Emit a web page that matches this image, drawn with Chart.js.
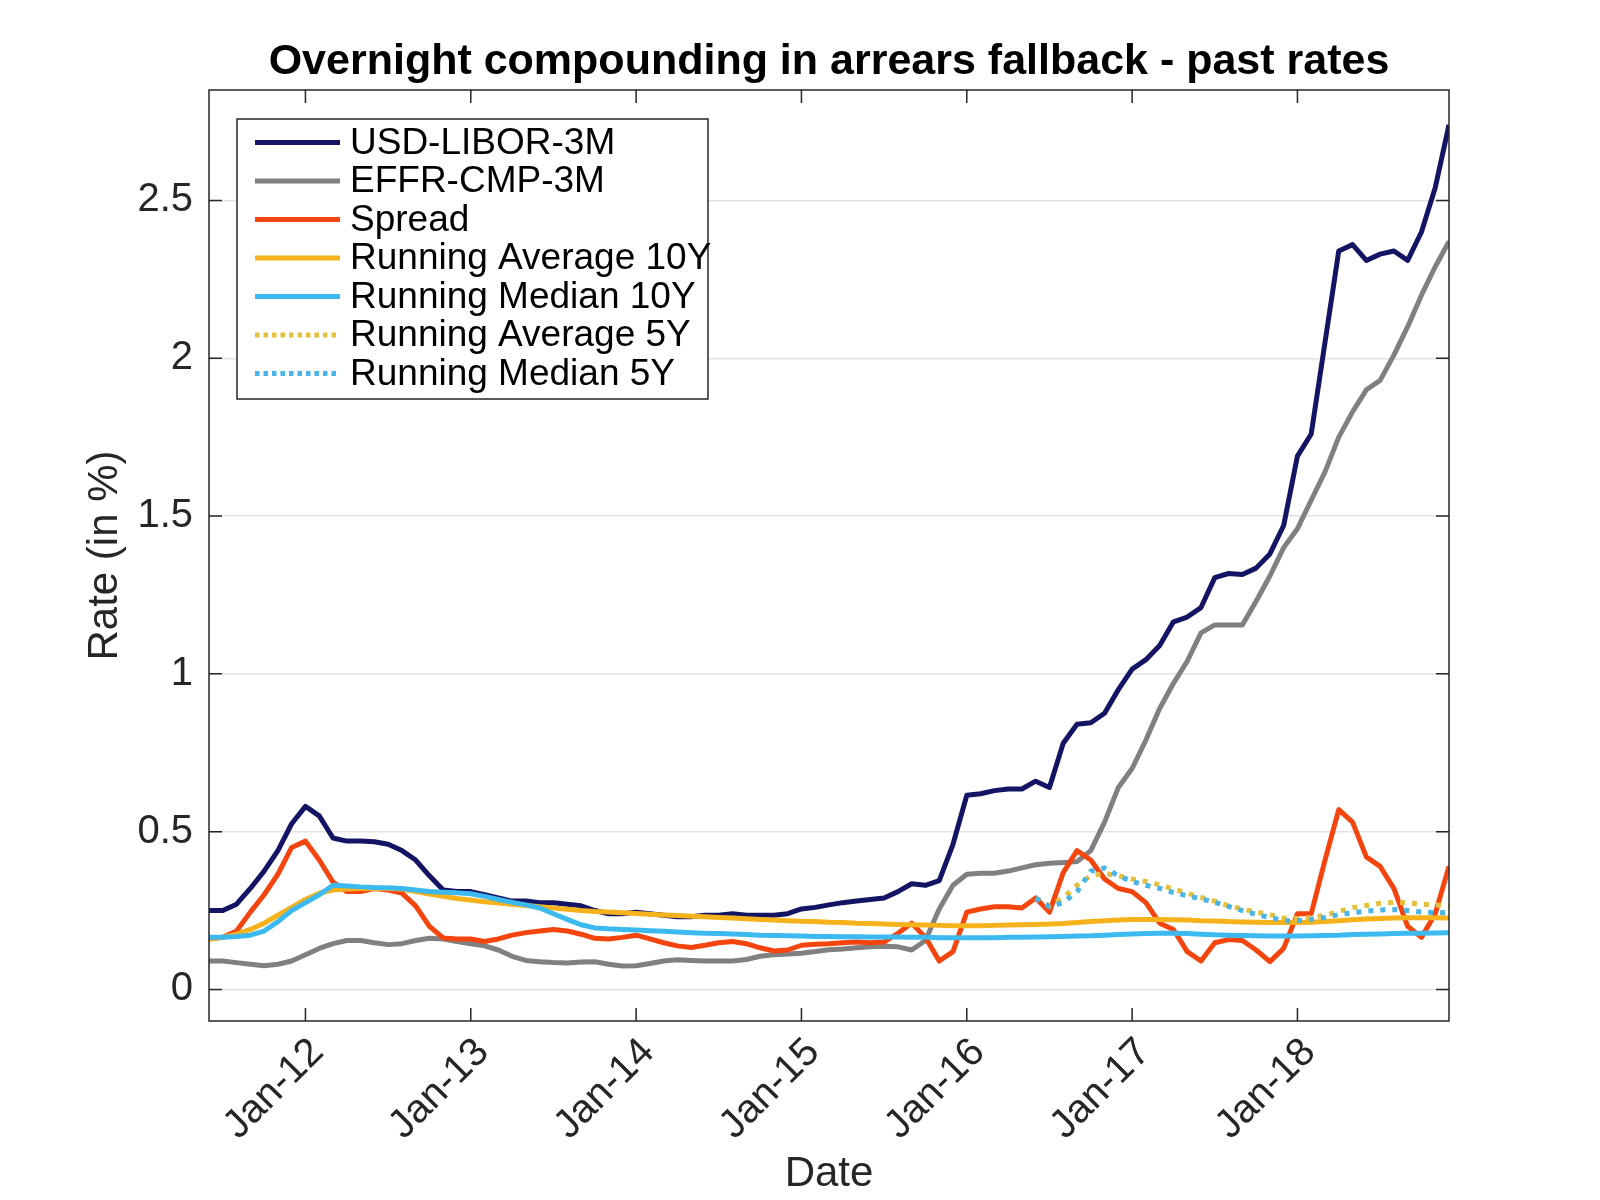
<!DOCTYPE html>
<html>
<head>
<meta charset="utf-8">
<script src="https://cdn.jsdelivr.net/npm/chart.js@4.4.1/dist/chart.umd.min.js"></script>
<style>
  html, body { margin: 0; padding: 0; background: #fff; }
  canvas { display: block; }
</style>
</head>
<body>
<canvas id="chart" width="1600" height="1200"></canvas>
<script>
// monthly samples, Jun 2011 .. Dec 2018
const months = [
  '2011-06','2011-07','2011-08','2011-09','2011-10','2011-11','2011-12',
  '2012-01','2012-02','2012-03','2012-04','2012-05','2012-06','2012-07','2012-08','2012-09','2012-10','2012-11','2012-12',
  '2013-01','2013-02','2013-03','2013-04','2013-05','2013-06','2013-07','2013-08','2013-09','2013-10','2013-11','2013-12',
  '2014-01','2014-02','2014-03','2014-04','2014-05','2014-06','2014-07','2014-08','2014-09','2014-10','2014-11','2014-12',
  '2015-01','2015-02','2015-03','2015-04','2015-05','2015-06','2015-07','2015-08','2015-09','2015-10','2015-11','2015-12',
  '2016-01','2016-02','2016-03','2016-04','2016-05','2016-06','2016-07','2016-08','2016-09','2016-10','2016-11','2016-12',
  '2017-01','2017-02','2017-03','2017-04','2017-05','2017-06','2017-07','2017-08','2017-09','2017-10','2017-11','2017-12',
  '2018-01','2018-02','2018-03','2018-04','2018-05','2018-06','2018-07','2018-08','2018-09','2018-10','2018-11','2018-12'
];

const libor = [
  0.25, 0.25, 0.27, 0.32, 0.375, 0.44, 0.525,
  0.58, 0.55, 0.48, 0.47, 0.47, 0.468, 0.46, 0.44, 0.41, 0.36, 0.315, 0.31,
  0.31, 0.30, 0.29, 0.28, 0.28, 0.275, 0.275, 0.27, 0.265, 0.25, 0.24, 0.24,
  0.245, 0.24, 0.235, 0.23, 0.23, 0.235, 0.235, 0.24, 0.235, 0.235, 0.235, 0.24,
  0.255, 0.26, 0.268, 0.275, 0.28, 0.285, 0.29, 0.31, 0.335, 0.33, 0.345, 0.46,
  0.615, 0.62, 0.63, 0.635, 0.635, 0.66, 0.64, 0.78, 0.84, 0.845, 0.875, 0.95,
  1.015, 1.045, 1.09, 1.165, 1.18, 1.21, 1.305, 1.318, 1.315, 1.335, 1.38, 1.47,
  1.69, 1.76, 2.05, 2.34, 2.36, 2.31, 2.33, 2.34, 2.31, 2.40, 2.54, 2.74
];

const effr = [
  0.09, 0.09, 0.085, 0.08, 0.075, 0.08, 0.09,
  0.11, 0.13, 0.145, 0.155, 0.155, 0.148, 0.142, 0.145, 0.155, 0.162, 0.16, 0.152,
  0.145, 0.138, 0.125, 0.105, 0.092, 0.088, 0.085, 0.084, 0.087, 0.088, 0.08, 0.074,
  0.075, 0.082, 0.09, 0.094, 0.092, 0.09, 0.09, 0.09, 0.095, 0.105, 0.11, 0.112,
  0.115, 0.12, 0.126, 0.128, 0.132, 0.135, 0.137, 0.135, 0.125, 0.155, 0.255, 0.33,
  0.365, 0.368, 0.368, 0.375, 0.385, 0.395, 0.40, 0.402, 0.405, 0.44, 0.53, 0.64,
  0.70, 0.79, 0.89, 0.97, 1.04, 1.13, 1.155, 1.155, 1.155, 1.23, 1.31, 1.40,
  1.46, 1.55, 1.64, 1.75, 1.83, 1.90, 1.93, 2.01, 2.10, 2.20, 2.29, 2.37
];

const spread = [
  0.16, 0.165, 0.185, 0.245, 0.30, 0.365, 0.45,
  0.47, 0.41, 0.34, 0.31, 0.31, 0.32, 0.315, 0.305, 0.265, 0.20, 0.163, 0.16,
  0.16, 0.152, 0.16, 0.172, 0.18, 0.185, 0.19, 0.185, 0.175, 0.162, 0.16, 0.165,
  0.172, 0.16, 0.148, 0.138, 0.133, 0.14, 0.148, 0.152, 0.145, 0.132, 0.122, 0.125,
  0.14, 0.143, 0.145, 0.148, 0.15, 0.148, 0.15, 0.178, 0.21, 0.165, 0.09, 0.12,
  0.245, 0.255, 0.262, 0.262, 0.258, 0.29, 0.245, 0.37, 0.44, 0.41, 0.35, 0.32,
  0.31, 0.275, 0.21, 0.19, 0.12, 0.09, 0.148, 0.158, 0.155, 0.125, 0.088, 0.13,
  0.24, 0.24, 0.41, 0.57, 0.53, 0.42, 0.39, 0.32, 0.20, 0.165, 0.24, 0.39
];

const avg10 = [
  0.16, 0.165, 0.175, 0.19, 0.21, 0.235, 0.26,
  0.285, 0.305, 0.315, 0.318, 0.32, 0.32, 0.32, 0.318, 0.31, 0.302, 0.295, 0.288,
  0.283, 0.278, 0.274, 0.27, 0.266, 0.262, 0.258, 0.254, 0.25, 0.247, 0.245, 0.243,
  0.241, 0.238, 0.236, 0.234, 0.232, 0.23, 0.228, 0.226, 0.224, 0.222, 0.22, 0.218,
  0.216, 0.215, 0.213, 0.212, 0.21, 0.209, 0.207, 0.206, 0.205, 0.204, 0.203, 0.202,
  0.202, 0.202, 0.203, 0.204, 0.205, 0.206, 0.207, 0.209, 0.212, 0.215, 0.218, 0.22,
  0.222, 0.222, 0.222, 0.221, 0.22, 0.218, 0.217, 0.215, 0.214, 0.213, 0.212, 0.212,
  0.212, 0.213, 0.215, 0.218, 0.221, 0.223, 0.225, 0.226, 0.227, 0.227, 0.227, 0.226
];

const median10 = [
  0.165, 0.165, 0.168, 0.172, 0.185, 0.215, 0.25,
  0.275, 0.30, 0.33, 0.328, 0.325, 0.323, 0.322, 0.32, 0.315, 0.31, 0.308, 0.306,
  0.303, 0.295, 0.285, 0.276, 0.268, 0.258, 0.24, 0.222, 0.205, 0.195, 0.192, 0.19,
  0.188, 0.186, 0.184, 0.182, 0.18, 0.178, 0.177, 0.176, 0.174, 0.172, 0.171, 0.17,
  0.169, 0.168, 0.168, 0.167, 0.167, 0.166, 0.166, 0.166, 0.165, 0.165, 0.164, 0.164,
  0.164, 0.164, 0.164, 0.165, 0.165, 0.166, 0.167, 0.168, 0.169, 0.17, 0.172, 0.174,
  0.176, 0.177, 0.178, 0.178, 0.177, 0.175, 0.173, 0.172, 0.171, 0.17, 0.169, 0.169,
  0.169, 0.17, 0.171, 0.172, 0.174, 0.175, 0.176, 0.177, 0.178, 0.178, 0.179, 0.18
];

const avg5 = [
  null, null, null, null, null, null, null,
  null, null, null, null, null, null, null, null, null, null, null, null,
  null, null, null, null, null, null, null, null, null, null, null, null,
  null, null, null, null, null, null, null, null, null, null, null, null,
  null, null, null, null, null, null, null, null, null, null, null, null,
  null, null, null, null, null, 0.29, 0.265, 0.29, 0.33, 0.36, 0.368, 0.36,
  0.35, 0.342, 0.332, 0.318, 0.305, 0.292, 0.28, 0.265, 0.255, 0.245, 0.237, 0.226,
  0.225, 0.228, 0.235, 0.247, 0.259, 0.266, 0.273, 0.276, 0.275, 0.27, 0.268, 0.265
];

const median5 = [
  null, null, null, null, null, null, null,
  null, null, null, null, null, null, null, null, null, null, null, null,
  null, null, null, null, null, null, null, null, null, null, null, null,
  null, null, null, null, null, null, null, null, null, null, null, null,
  null, null, null, null, null, null, null, null, null, null, null, null,
  null, null, null, null, null, 0.29, 0.262, 0.275, 0.31, 0.375, 0.385, 0.36,
  0.342, 0.33, 0.32, 0.307, 0.297, 0.287, 0.276, 0.263, 0.25, 0.238, 0.228, 0.218,
  0.218, 0.222, 0.228, 0.237, 0.243, 0.248, 0.252, 0.253, 0.25, 0.245, 0.244, 0.243
];

const seriesNames = [
  'USD-LIBOR-3M', 'EFFR-CMP-3M', 'Spread',
  'Running Average 10Y', 'Running Median 10Y',
  'Running Average 5Y', 'Running Median 5Y'
];
const seriesColors = ['#141464', '#808080', '#f5450f', '#f5b21c', '#3cbaf0', '#e4c03c', '#48b4e8'];
const seriesDotted = [false, false, false, false, false, true, true];

const xTickYears = [2012, 2013, 2014, 2015, 2016, 2017, 2018];
const xTickLabels = ['Jan-12', 'Jan-13', 'Jan-14', 'Jan-15', 'Jan-16', 'Jan-17', 'Jan-18'];
const yTicks = [0, 0.5, 1, 1.5, 2, 2.5];

const chartTitle = 'Overnight compounding in arrears fallback - past rates';

// month string -> decimal year for the linear x axis
const xs = months.map(m => {
  const [yy, mm] = m.split('-').map(Number);
  return yy + (mm - 1) / 12;
});

const seriesValues = [libor, effr, spread, avg10, median10, avg5, median5];

const datasets = seriesValues.map((vals, i) => ({
  label: seriesNames[i],
  data: vals.map((v, k) => ({ x: xs[k], y: v })),
  borderColor: seriesColors[i],
  backgroundColor: seriesColors[i],
  borderWidth: 5,
  borderDash: seriesDotted[i] ? [5, 7] : [],
  borderJoinStyle: 'round',
  pointRadius: 0,
  tension: 0,
  fill: false,
  order: seriesValues.length - i   // later series drawn on top, like the original
}));

const FONT = "'Liberation Sans', Arial, Helvetica, sans-serif";
const AXIS_COLOR = '#262626';

// box, inward tick marks, title and in-plot legend
const frame = {
  id: 'frame',
  afterDraw(chart) {
    const { ctx, chartArea: a, scales } = chart;
    ctx.save();
    ctx.strokeStyle = AXIS_COLOR;
    ctx.lineWidth = 1.5;
    ctx.beginPath();
    yTicks.forEach(v => {
      const py = scales.y.getPixelForValue(v);
      ctx.moveTo(a.left, py); ctx.lineTo(a.left + 13, py);
      ctx.moveTo(a.right, py); ctx.lineTo(a.right - 13, py);
    });
    xTickYears.forEach(v => {
      const px = scales.x.getPixelForValue(v);
      ctx.moveTo(px, a.bottom); ctx.lineTo(px, a.bottom - 13);
      ctx.moveTo(px, a.top); ctx.lineTo(px, a.top + 13);
    });
    ctx.stroke();
    ctx.strokeRect(a.left, a.top, a.right - a.left, a.bottom - a.top);

    // title
    ctx.fillStyle = '#000';
    ctx.font = 'bold 43px ' + FONT;
    ctx.textAlign = 'center';
    ctx.textBaseline = 'middle';
    ctx.fillText(chartTitle, (a.left + a.right) / 2, 62);

    // legend
    const lx = a.left + 28, ly = a.top + 29, lw = 471, lh = 280;
    ctx.fillStyle = '#fff';
    ctx.fillRect(lx, ly, lw, lh);
    ctx.strokeStyle = AXIS_COLOR;
    ctx.lineWidth = 1.5;
    ctx.strokeRect(lx, ly, lw, lh);
    ctx.font = '37px ' + FONT;
    ctx.textAlign = 'left';
    chart.data.datasets.forEach((ds, i) => {
      const ry = ly + 23.5 + i * 38.5;
      ctx.strokeStyle = ds.borderColor;
      ctx.lineWidth = 5;
      ctx.setLineDash(seriesDotted[i] ? [4.5, 4] : []);
      ctx.beginPath();
      ctx.moveTo(lx + 18, ry);
      ctx.lineTo(lx + 103, ry);
      ctx.stroke();
      ctx.setLineDash([]);
      ctx.fillStyle = '#000';
      ctx.fillText(ds.label, lx + 113, ry + 1);
    });
    ctx.restore();
  }
};

new Chart(document.getElementById('chart'), {
  type: 'line',
  data: { datasets },
  options: {
    responsive: false,
    animation: false,
    devicePixelRatio: 1,
    layout: { padding: { left: 0, top: 90, right: 151, bottom: 0 } },
    plugins: {
      legend: { display: false },
      title: { display: false },
      tooltip: { enabled: false }
    },
    scales: {
      x: {
        type: 'linear',
        min: xs[0],
        max: xs[xs.length - 1],
        afterBuildTicks: scale => { scale.ticks = xTickYears.map(v => ({ value: v })); },
        afterFit: scale => { scale.height = 179; },
        grid: { display: false, drawTicks: false },
        border: { display: false },
        ticks: {
          autoSkip: false,
          minRotation: 45,
          maxRotation: 45,
          padding: 8,
          labelOffset: 12,
          color: AXIS_COLOR,
          font: { family: FONT, size: 40 },
          callback: (value, index) => xTickLabels[index]
        },
        title: {
          display: true,
          text: 'Date',
          color: AXIS_COLOR,
          font: { family: FONT, size: 42 },
          padding: { top: 0, bottom: 0 }
        }
      },
      y: {
        min: -0.1,
        max: 2.85,
        afterBuildTicks: scale => { scale.ticks = yTicks.map(v => ({ value: v })); },
        afterFit: scale => { scale.width = 209; },
        grid: { color: '#e3e3e3', lineWidth: 1.5, drawTicks: false },
        border: { display: false },
        ticks: {
          padding: 16,
          color: AXIS_COLOR,
          font: { family: FONT, size: 40 },
          callback: v => String(v)
        },
        title: {
          display: true,
          text: 'Rate (in %)',
          color: AXIS_COLOR,
          font: { family: FONT, size: 42 },
          padding: { top: 80, bottom: 0 }
        }
      }
    }
  },
  plugins: [frame]
});
</script>
</body>
</html>
